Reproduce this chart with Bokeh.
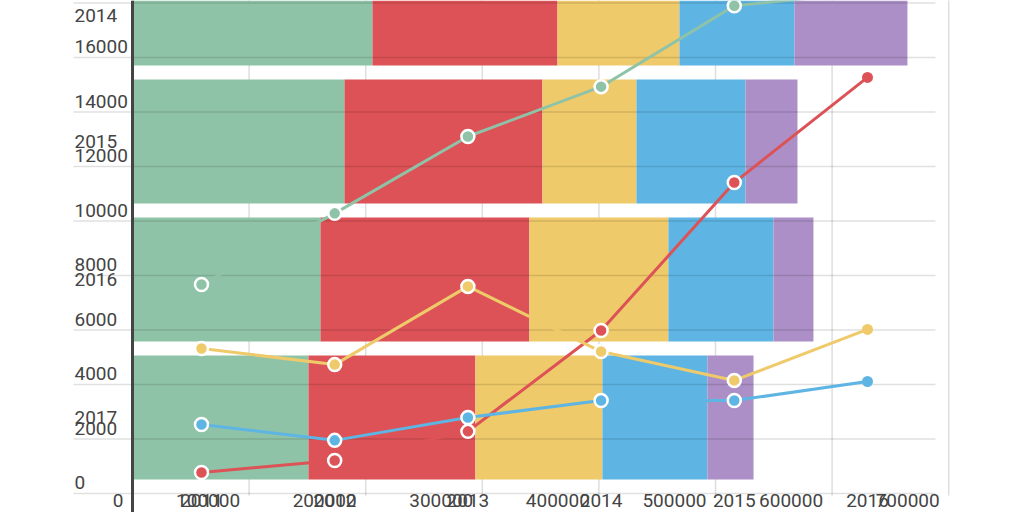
from bokeh.plotting import figure
from bokeh.models import Range1d, Span, ColumnDataSource
from bokeh.core.properties import value
from bokeh.embed import file_html
from bokeh.resources import INLINE

# Stacked bars (horizontal)
BAR_YEARS = ["2014", "2015", "2016", "2017"]
SEG_GREEN = [205800, 181800, 161200, 150900]
SEG_RED = [158700, 169800, 179200, 143200]
SEG_YELLOW = [104600, 80600, 119200, 108900]
SEG_BLUE = [98600, 93500, 90100, 90100]
SEG_PURPLE = [96900, 44600, 34300, 39500]
BAR_X_TICKS = [0, 100000, 200000, 300000, 400000, 500000, 600000, 700000]

# Lines with points
LINE_YEARS = ["2011", "2012", "2013", "2014", "2015", "2016"]
LINE_GREEN = [7670, 10280, 13100, 14930, 17900, 18400]
LINE_RED = [770, 1210, 2280, 5980, 11410, 15270]
LINE_YELLOW = [5320, 4730, 7600, 5210, 4150, 6020]
LINE_BLUE = [2530, 1950, 2790, 3410, 3410, 4110]
LINE_Y_TICKS = [0, 2000, 4000, 6000, 8000, 10000, 12000, 14000, 16000, 18000]
LINE_Y_LABELS = [0, 2000, 4000, 6000, 8000, 10000, 12000, 14000, 16000]

GREEN = "#8fc3a8"
RED = "#dc5256"
YELLOW = "#efca6a"
BLUE = "#5eb5e4"
PURPLE = "#ab8fc6"
TEXT = "#444444"
FONT = value("Roboto")

# Layout (page pixels) -> ranges
W, H = 1024, 512
LEFT, TOP = 0, 0
BAR_ZERO_PX, BAR_UNIT_PX = 132.0, 116.6 / 100000
BAR_ROW0_PX, BAR_ROW_PX = 417.0, 138.0
LINE_ZERO_PX, LINE_UNIT_PX = 493.0, 54.5 / 2000
CAT0_PX, CAT_PX = 201.0, 133.2


def bx(px):
    return (px - BAR_ZERO_PX) / BAR_UNIT_PX


def ly(py):
    return (LINE_ZERO_PX - py) / LINE_UNIT_PX


def cx(px):
    return (px - CAT0_PX) / CAT_PX


p = figure(width=W, height=H, output_backend="svg", toolbar_location=None,
           x_axis_location=None, y_axis_location=None, min_border=0,
           x_range=Range1d(bx(LEFT), bx(LEFT + W)),
           y_range=Range1d(ly(TOP + H), ly(TOP)))
p.outline_line_color = None
p.grid.visible = False
p.background_fill_color = "white"
p.extra_y_ranges = {"bars": Range1d((BAR_ROW0_PX - TOP - H) / BAR_ROW_PX,
                                    (BAR_ROW0_PX - TOP) / BAR_ROW_PX)}
p.extra_x_ranges = {"cats": Range1d(cx(LEFT), cx(LEFT + W))}

# vertical grid of the bar chart (below the bars)
p.segment(x0=BAR_X_TICKS, x1=BAR_X_TICKS, y0=ly(495), y1=ly(TOP) + 500,
          line_color="#dedede", line_width=1.5)

bar_pos = list(range(len(BAR_YEARS)))[::-1]
src = ColumnDataSource(dict(pos=bar_pos, g=SEG_GREEN, r=SEG_RED, y=SEG_YELLOW,
                            b=SEG_BLUE, p=SEG_PURPLE))
p.hbar_stack(["g", "r", "y", "b", "p"], y="pos", height=0.9, source=src,
             color=[GREEN, RED, YELLOW, BLUE, PURPLE], line_color=None,
             y_range_name="bars")

# horizontal grid of the line chart (above the bars)
p.segment(x0=cx(73), x1=cx(935), y0=LINE_Y_TICKS, y1=LINE_Y_TICKS,
          x_range_name="cats", line_color="black", line_alpha=0.12, line_width=1.5)

idx = list(range(len(LINE_YEARS)))
for vals, col in [(LINE_GREEN, GREEN), (LINE_RED, RED), (LINE_YELLOW, YELLOW), (LINE_BLUE, BLUE)]:
    p.line(idx, vals, line_color=col, line_width=3, x_range_name="cats")
    p.scatter(idx[:-1], vals[:-1], size=13, fill_color=col, line_color="white",
              line_width=2.5, x_range_name="cats")
    p.scatter(idx[-1:], vals[-1:], size=11, fill_color=col, line_color=None,
              x_range_name="cats")

p.add_layout(Span(location=0, dimension="height", line_color=TEXT, line_width=3))

# y labels of the line chart, left aligned above their grid lines
p.text(x=[bx(74)] * len(LINE_Y_LABELS), y=LINE_Y_LABELS, text=[str(v) for v in LINE_Y_LABELS],
       text_font=FONT, text_font_size="19px", text_color=TEXT,
       text_align="left", text_baseline="alphabetic", y_offset=-11)

# category labels of the bar chart (top one pushed down so that it stays visible)
p.text(x=[bx(74)] * len(BAR_YEARS), y=bar_pos, text=BAR_YEARS, y_range_name="bars",
       text_font=FONT, text_font_size="19px", text_color=TEXT,
       text_align="left", text_baseline="alphabetic", y_offset=[12, 0, 0, 0])

# bottom labels, both charts on the same row
bottom = ly(TOP + H)
p.text(x=BAR_X_TICKS, y=[bottom] * len(BAR_X_TICKS), text=[str(v) for v in BAR_X_TICKS],
       text_font=FONT, text_font_size="19px", text_color=TEXT,
       text_align="right", text_baseline="alphabetic", x_offset=-9, y_offset=-12)
p.text(x=idx, y=[bottom] * len(idx), text=LINE_YEARS, x_range_name="cats",
       text_font=FONT, text_font_size="19px", text_color=TEXT,
       text_align="center", text_baseline="alphabetic", y_offset=-12)

open("out.html", "w").write(file_html(p, INLINE))
